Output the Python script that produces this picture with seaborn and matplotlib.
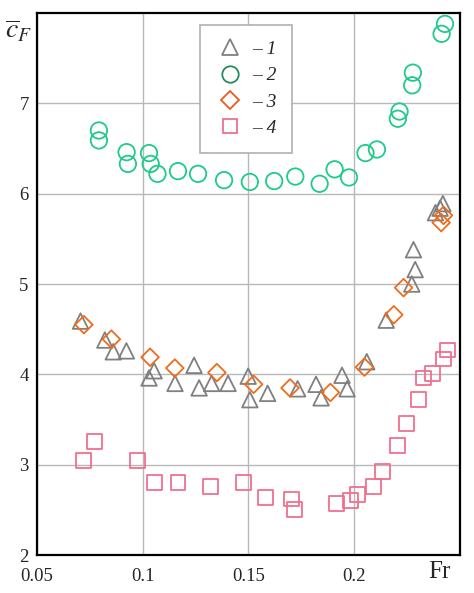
import numpy as np
import pandas as pd
import matplotlib
matplotlib.use("Agg")
import matplotlib.pyplot as plt
from matplotlib.lines import Line2D
import seaborn as sns

# ---- data ----
fr1 = [0.0706, 0.0821, 0.0861, 0.0923, 0.1030, 0.1054, 0.1153, 0.1243, 0.1267, 0.1326,
       0.1404, 0.1499, 0.1507, 0.1591, 0.1733, 0.1820, 0.1844, 0.1943, 0.1967, 0.2060,
       0.2152, 0.2273, 0.2289, 0.2281, 0.2385, 0.2407, 0.2420]
cf1 = [4.59, 4.38, 4.25, 4.26, 3.96, 4.04, 3.90, 4.10, 3.85, 3.90,
       3.90, 3.98, 3.72, 3.79, 3.84, 3.89, 3.74, 3.99, 3.84, 4.14,
       4.60, 5.00, 5.16, 5.38, 5.79, 5.84, 5.89]

fr2 = [0.0793, 0.0793, 0.0924, 0.0930, 0.1030, 0.1038, 0.1070, 0.1167, 0.1262, 0.1385,
       0.1507, 0.1622, 0.1722, 0.1837, 0.1908, 0.1976, 0.2054, 0.2108, 0.2207, 0.2215,
       0.2275, 0.2278, 0.2414, 0.2430]
cf2 = [6.70, 6.59, 6.46, 6.33, 6.45, 6.33, 6.22, 6.25, 6.22, 6.15,
       6.13, 6.14, 6.19, 6.11, 6.27, 6.18, 6.45, 6.49, 6.83, 6.91,
       7.20, 7.34, 7.77, 7.88]

fr3 = [0.0722, 0.0852, 0.1035, 0.1152, 0.1351, 0.1525, 0.1697, 0.1888, 0.2049, 0.2188,
       0.2234, 0.2412, 0.2423]
cf3 = [4.55, 4.39, 4.19, 4.07, 4.02, 3.89, 3.85, 3.80, 4.08, 4.66,
       4.96, 5.68, 5.76]

fr4 = [0.0722, 0.0774, 0.0975, 0.1054, 0.1167, 0.1322, 0.1475, 0.1583, 0.1705, 0.1720,
       0.1915, 0.1983, 0.2017, 0.2091, 0.2136, 0.2207, 0.2250, 0.2305, 0.2328, 0.2373,
       0.2422, 0.2444]
cf4 = [3.05, 3.26, 3.05, 2.80, 2.80, 2.76, 2.80, 2.64, 2.62, 2.50,
       2.57, 2.60, 2.67, 2.76, 2.92, 3.21, 3.46, 3.72, 3.96, 4.01,
       4.17, 4.27]

series_labels = ["– 1", "– 2", "– 3", "– 4"]
x_ticks = [0.05, 0.1, 0.15, 0.2]
x_ticklabels = ["0.05", "0.1", "0.15", "0.2"]
y_ticks = [2, 3, 4, 5, 6, 7]

colors = ["#808080", "#1fca8a", "#ec6d1c", "#f0708e"]
legend_colors = ["#808080", "#2a8a5e", "#ec5a1c", "#f0708e"]
markers = ["^", "o", "D", "s"]
sizes = [125, 140, 80, 115]

sns.set_style("white")
plt.rcParams["font.family"] = ["Liberation Serif", "DejaVu Serif"]
plt.rcParams["mathtext.fontset"] = "stix"

fig = plt.figure(figsize=(4.74, 5.93), dpi=100)
ax = fig.add_axes([0.078, 0.064, 0.892, 0.914])

datasets = [(fr1, cf1), (fr2, cf2), (fr3, cf3), (fr4, cf4)]
for (xs, ys), c, m, s in zip(datasets, colors, markers, sizes):
    df = pd.DataFrame({"Fr": xs, "cF": ys})
    sns.scatterplot(data=df, x="Fr", y="cF", ax=ax, marker=m, s=s,
                    facecolor="none", edgecolor=c, linewidth=1.3, zorder=3)

ax.set_xlim(0.05, 0.25)
ax.set_ylim(2, 8)
ax.set_xticks(x_ticks)
ax.set_xticklabels(x_ticklabels)
ax.set_yticks(y_ticks)
ax.set_yticklabels([str(v) for v in y_ticks])
ax.tick_params(axis="x", length=0, labelsize=13.5, pad=9)
ax.tick_params(axis="y", length=0, labelsize=13.5, pad=6)
ax.set_xlabel("")
ax.set_ylabel("")
ax.grid(True, color="#b8b8b8", linewidth=1.0, zorder=0)
ax.set_axisbelow(True)
for side, sp in ax.spines.items():
    sp.set_color("black")
    sp.set_linewidth(1.6)

ax.text(0.25 - 0.0095, -0.031, "Fr", transform=ax.get_xaxis_transform(),
        ha="center", va="center", fontsize=18)
ax.text(-0.012, 7.80, r"$\overline{c}_F$", transform=ax.get_yaxis_transform(),
        ha="right", va="center", fontsize=20)

handles = [Line2D([], [], linestyle="none", marker=m, markersize=np.sqrt(s),
                  markerfacecolor="none", markeredgecolor=c, markeredgewidth=1.3)
           for m, s, c in zip(markers, sizes, legend_colors)]
leg = ax.legend(handles, series_labels, loc="upper left", bbox_to_anchor=(0.385, 0.978),
                borderaxespad=0, frameon=True, fancybox=False, framealpha=1,
                edgecolor="#b0b0b0", prop={"family": "Liberation Serif", "style": "italic", "size": 14},
                labelspacing=0.45, handletextpad=0.4, borderpad=0.8, handlelength=1.5)
leg.get_frame().set_linewidth(1.2)

fig.savefig("out.png", dpi=100)
